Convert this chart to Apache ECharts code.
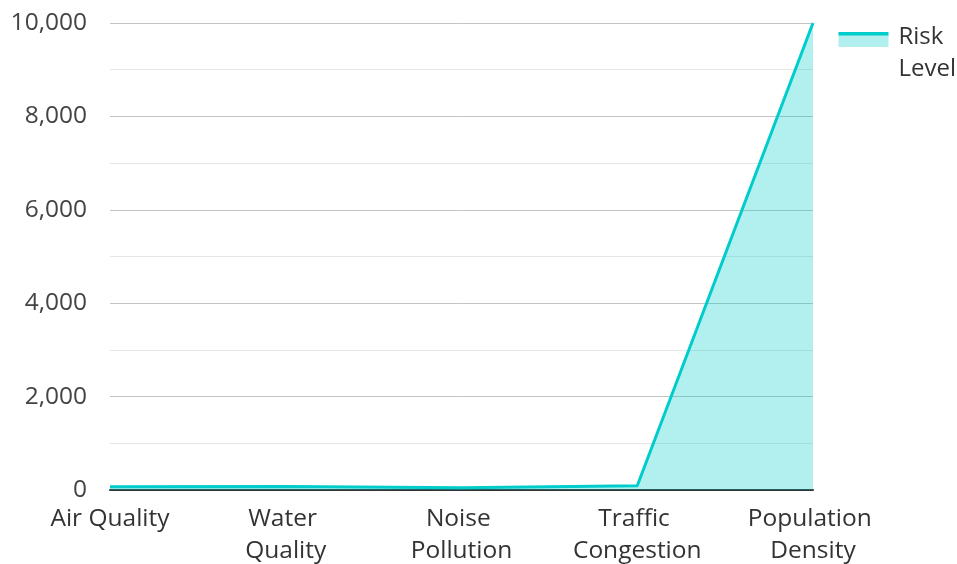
<!DOCTYPE html>
<html><head><meta charset="utf-8">
<script src="https://cdn.jsdelivr.net/npm/echarts@6/dist/echarts.min.js"></script>
<style>html,body{margin:0;padding:0;background:#fff}#c{width:957px;height:564px}</style>
</head><body><div id="c"></div>
<script>
const categories = ['Air Quality', 'Water Quality', 'Noise Pollution', 'Traffic Congestion', 'Population Density'];
const riskLevel = [70, 75, 50, 90, 10000];
const seriesName = 'Risk Level';

const chart = echarts.init(document.getElementById('c'));
chart.setOption({
  animation: false,
  textStyle: { fontFamily: '"Open Sans", "Noto Sans", sans-serif' },
  grid: { left: 110, right: 144, top: 23, bottom: 74, containLabel: false, outerBoundsMode: 'none' },
  legend: { show: false, data: [seriesName] },
  graphic: [{
    type: 'group', right: 1, top: 21,
    children: [
      { type: 'rect', shape: { x: 0, y: 13, width: 50, height: 13 }, style: { fill: 'rgba(0,204,204,0.3)' } },
      { type: 'rect', shape: { x: 0, y: 11, width: 50, height: 3.5 }, style: { fill: '#00CCCC' } },
      { type: 'text', x: 60, y: 0, style: { text: 'Risk\nLevel', fontSize: 24, lineHeight: 32, fill: '#333',
          fontFamily: '"Open Sans", "Noto Sans", sans-serif' } }
    ]
  }],
  xAxis: {
    type: 'category', data: categories, boundaryGap: false,
    axisLine: { lineStyle: { color: '#333', width: 2 } },
    axisTick: { show: false },
    axisLabel: {
      fontSize: 24.5, color: '#333', margin: 13, interval: 0,
      width: 138, overflow: 'break', lineHeight: 32
    }
  },
  yAxis: {
    type: 'value', min: 0, max: 10000, interval: 2000,
    axisLine: { show: false }, axisTick: { show: false },
    axisLabel: { fontSize: 24.5, color: '#444', margin: 23,
      formatter: v => v.toLocaleString('en-US') },
    splitLine: { lineStyle: { color: '#c4c4c4', width: 1 } },
    minorTick: { show: false, splitNumber: 2 },
    minorSplitLine: { show: true, lineStyle: { color: '#e6e6e6', width: 1 } }
  },
  series: [{
    name: seriesName, type: 'line', data: riskLevel,
    symbol: 'none',
    lineStyle: { color: '#00CCCC', width: 3 },
    itemStyle: { color: '#00CCCC' },
    areaStyle: { color: '#00CCCC', opacity: 0.3 }
  }]
});
</script></body></html>
